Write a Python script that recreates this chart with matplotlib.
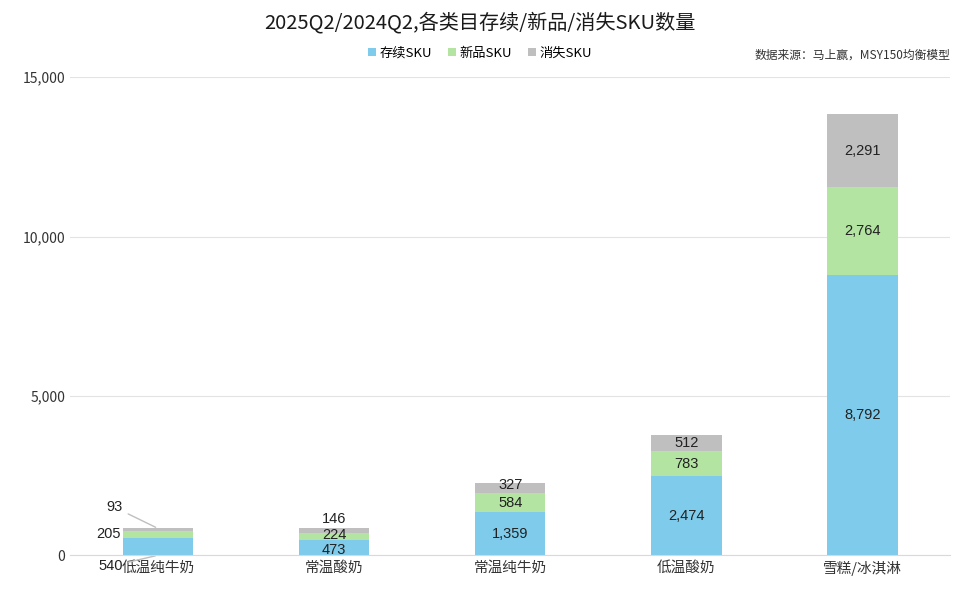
import matplotlib
matplotlib.use('Agg')
from matplotlib import pyplot as plt
import numpy as np

plt.rcParams['font.family'] = ['Noto Sans CJK SC', 'DejaVu Sans']

# ------------------------------------------------ DATA
categories = ['低温纯牛奶', '常温酸奶', '常温纯牛奶', '低温酸奶', '雪糕/冰淇淋']
keep = [540, 473, 1359, 2474, 8792]
new = [205, 224, 584, 783, 2764]
lost = [93, 146, 327, 512, 2291]
series_names = ['存续SKU', '新品SKU', '消失SKU']
colors = ['#7FCBEB', '#B3E4A2', '#BFBFBF']

# ------------------------------------------------ PLOT
fig = plt.figure(figsize=(9.6, 5.9), dpi=100)
ax = fig.add_axes([0.073, 0.059, 0.917, 0.81])

x = np.arange(len(categories))
w = 0.4
bottoms = np.zeros(len(categories))
bars = []
for vals, c, name in zip([keep, new, lost], colors, series_names):
    b = ax.bar(x, vals, w, bottom=bottoms, color=c, label=name, zorder=3)
    bars.append((b, np.array(vals), bottoms.copy()))
    bottoms = bottoms + np.array(vals)

lab_font = dict(family=['Liberation Sans', 'DejaVu Sans'], fontsize=10.5, color='#222222')

# labels inside bars (first category done below with leader lines)
for k, (b, vals, bot) in enumerate(bars):
    for i in range(1, len(categories)):
        cy = bot[i] + vals[i] / 2
        if i == 1:
            # small bar: spread the labels a bit
            if k == 0:
                cy = bot[i] + vals[i] * 0.35
            elif k == 1:
                cy = bot[i] + vals[i] * 0.75
            else:
                ax.text(x[i], bot[i] + vals[i] + 80, f'{vals[i]:,}', ha='center', va='bottom',
                        zorder=4, **lab_font)
                continue
        if i == 2 and k == 2:
            cy = bot[i] + vals[i] * 0.75
        ax.text(x[i], cy, f'{vals[i]:,}', ha='center', va='center', zorder=4, **lab_font)

# first category: labels outside with leader lines
ax.annotate(f'{lost[0]:,}', xy=(x[0], keep[0] + new[0] + lost[0]), xytext=(x[0] - 0.2, 1500),
            ha='right', va='center', zorder=4,
            arrowprops=dict(arrowstyle='-', color='#BFBFBF', lw=1), **lab_font)
ax.text(x[0] - w / 2 - 0.01, keep[0] + new[0] / 2 + 20, f'{new[0]:,}', ha='right', va='center', zorder=4, **lab_font)
ax.annotate(f'{keep[0]:,}', xy=(x[0], 0), xytext=(x[0] - 0.2, -350),
            ha='right', va='center', zorder=4,
            arrowprops=dict(arrowstyle='-', color='#BFBFBF', lw=1), **lab_font)

ax.set_xlim(-0.5, len(categories) - 0.5)
ax.set_ylim(0, 15000)
ax.set_yticks([0, 5000, 10000, 15000])
ax.set_yticklabels(['0', '5,000', '10,000', '15,000'], fontsize=10, color='#333333')
ax.set_xticks(x)
ax.set_xticklabels(categories, fontsize=10.5, color='#333333')
ax.tick_params(axis='both', length=0)
ax.tick_params(axis='x', pad=4)
ax.grid(axis='y', color='#E3E3E3', lw=0.8, zorder=0)
for s in ['top', 'right', 'left']:
    ax.spines[s].set_visible(False)
ax.spines['bottom'].set_color('#D9D9D9')
ax.spines['bottom'].set_zorder(5)

fig.text(0.5, 0.962, '2025Q2/2024Q2,各类目存续/新品/消失SKU数量', ha='center', va='center',
         fontsize=14.5, color='#1a1a1a')
fig.legend(loc='center', bbox_to_anchor=(0.5, 0.91), ncol=3, frameon=False, fontsize=9.5,
           handlelength=0.6, handleheight=0.6, handletextpad=0.3, columnspacing=1.2)
fig.text(0.99, 0.906, '数据来源：马上赢，MSY150均衡模型', ha='right', va='center', fontsize=8.5, color='#333333')

fig.savefig('out.png', dpi=100, facecolor='white')
print('OK')
